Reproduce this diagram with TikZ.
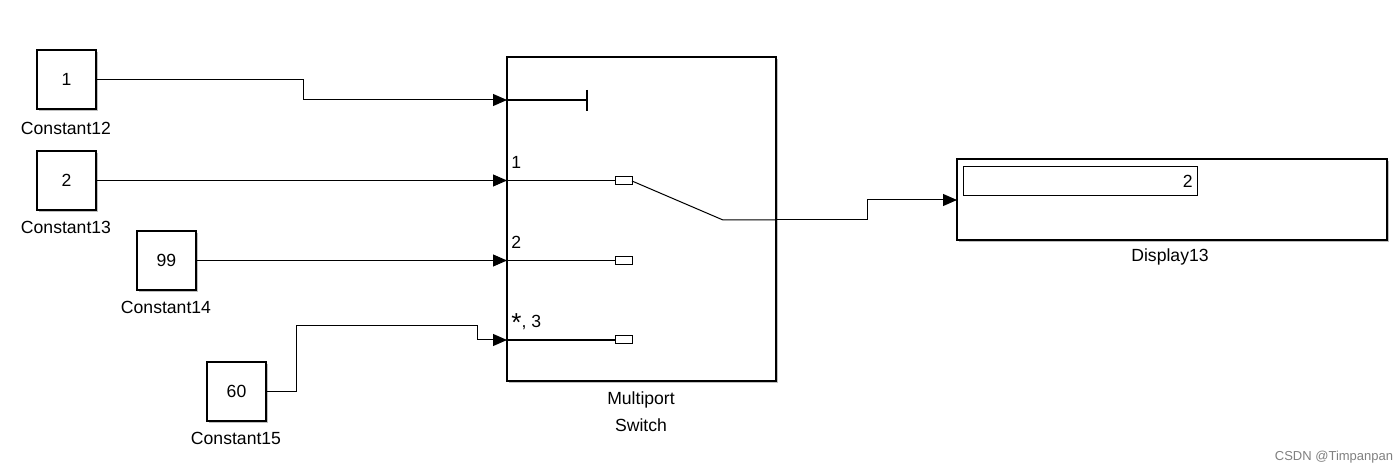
\documentclass[tikz,border=0pt]{standalone}
\usepackage{fontspec}
\setmainfont{Liberation Sans}
\usetikzlibrary{arrows.meta}
\begin{document}
\begin{tikzpicture}[x=0.5pt,y=-0.5pt,font=\fontsize{8.8}{10.5}\selectfont,
  blk/.style={draw,line width=0.6pt,fill=white},
  wire/.style={line width=0.5pt},
  thk/.style={line width=0.9pt},
  arr/.style={wire,-{Triangle[length=7pt,width=6pt]}},
  lbl/.style={inner sep=0pt,align=center}]
\useasboundingbox (0,0) rectangle (1397,475);
% constants
\foreach \n/\x/\y/\v in {c12/37/50/1, c13/37/151/2, c14/137/231/99, c15/207/362/60}{
  \fill[gray!50] (\x+2,\y+2) rectangle (\x+61,\y+61);
  \draw[blk] (\x,\y) rectangle (\x+59,\y+59);
  \node[lbl] (\n) at (\x+29.5,\y+29.5) {\v};
  \coordinate (\n o) at (\x+59,\y+29.5);
}
\node[lbl] (l12) at (66,128) {Constant12};
\node[lbl] (l13) at (66,227) {Constant13};
\node[lbl] (l14) at (166,307) {Constant14};
\node[lbl] (l15) at (236,438) {Constant15};
% switch
\fill[gray!50] (509,59) rectangle (778,383);
\draw[blk] (507,57) rectangle (776,381);
\node[lbl] (sw) at (641,412) {Multiport\\[3pt]Switch};
\coordinate (i0) at (507,100);
\coordinate (i1) at (507,180.5);
\coordinate (i2) at (507,260.5);
\coordinate (i3) at (507,340);
\coordinate (so) at (776,220);
\draw[thk] (i0) -- (587,100) (587,90) -- (587,111);
\foreach \i/\y in {1/180.5,2/260.5,3/340}{
  \draw[thk] (i\i) -- (615,\y);
  \draw[wire] (615,\y-4) rectangle (632,\y+4);
}
\node[lbl,anchor=west] (p1) at (511,162) {1};
\node[lbl,anchor=west] (p2) at (511,242) {2};
\node[lbl,anchor=west] (p3) at (511,323) {{\fontsize{13}{13}\selectfont\raisebox{-2pt}{*}}, 3};
\draw[wire] (632,181) -- (723,220) -- (so);
% display
\fill[gray!50] (959,161) rectangle (1389,242);
\draw[blk] (957,159) rectangle (1387,240);
\draw[wire] (963,167) rectangle (1197,196);
\node[lbl,anchor=east] (dv) at (1193,181) {2};
\coordinate (di) at (957,200);
\node[lbl] (dl) at (1170,257) {Display13};
% wires
\draw[arr] (c12o) -- (303,79.5) -- (303,100) -- (i0);
\draw[arr] (c13o) -- (i1);
\draw[arr] (c14o) -- (i2);
\draw[arr] (c15o) -- (296,391.5) -- (296,326) -- (477,326) -- (477,340) -- (i3);
\draw[arr] (so) -- (867,220) -- (867,200) -- (di);
\node[lbl,text=gray,font=\fontsize{6.5}{8}\selectfont] (wm) at (1334,457) {CSDN @Timpanpan};
\end{tikzpicture}
\end{document}
